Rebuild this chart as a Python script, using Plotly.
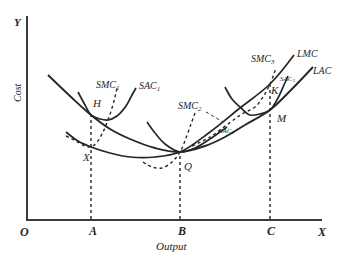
import plotly.graph_objects as go

# ---- data (in chart units) ----
lac_x = [20, 42, 63, 82, 102, 127, 152, 177, 197, 217, 242, 264, 285]
lac_y = [144, 123, 104, 90, 80, 71, 67, 73, 82, 94, 109, 130, 152]

lmc_x = [38, 50, 63, 82, 102, 127, 152, 182, 212, 242, 266]
lmc_y = [87, 78, 72, 66, 62, 62, 67, 87, 111, 135, 164]

sac1_x = [50, 57, 63, 72, 80, 89, 98, 104, 108]
sac1_y = [127, 114, 104, 100, 99, 103, 113, 124, 131]

smc1_x = [38, 48, 57, 63, 69, 75, 80, 84, 87, 89]
smc1_y = [83, 78, 73, 72, 77, 87, 99, 111, 122, 131]

sac2_x = [119, 127, 137, 152, 167, 182, 199]
sac2_y = [97, 86, 75, 67, 71, 80, 92]

smc2_x = [115, 124, 134, 144, 152, 158, 163, 167]
smc2_y = [57, 52, 51, 57, 67, 81, 95, 106]

sac3_x = [197, 204, 213, 222, 232, 242, 250, 256, 260]
sac3_y = [132, 120, 111, 104, 105, 109, 121, 134, 143]

smc3_x = [164, 182, 200, 214, 227, 235, 242, 248]
smc3_y = [73, 82, 95, 105, 112, 122, 135, 151]

leader_x = [178, 195]
leader_y = [107, 97]

# output levels and the cost at the marked points
out_names = ["A", "B", "C"]
out_x = [63, 152, 242]
out_top = [104, 67, 135]

# point labels
pt_names = ["H", "X", "Q", "M", "K"]
pt_x = [69, 58, 160, 253, 246]
pt_y = [116, 62, 53, 101, 129]

curve_labels = ["SMC<sub>1</sub>", "SAC<sub>1</sub>", "SMC<sub>2</sub>", "SMC<sub>3</sub>", "LMC", "LAC"]
curve_lab_x = [80, 121, 162, 235, 279, 294]
curve_lab_y = [134, 133, 113, 159, 166, 149]

small_labels = ["SAC<sub>2</sub>", "SAC<sub>3</sub>"]
small_lab_x = [198, 259]
small_lab_y = [88, 140]

X_MAX = 294
Y_MAX = 203

INK = "#262626"
FONT = "Liberation Serif"

fig = go.Figure()


def solid(x, y, w=1.5):
    fig.add_trace(go.Scatter(x=x, y=y, mode="lines",
                             line=dict(color=INK, width=w, shape="spline", smoothing=1.0),
                             hoverinfo="skip", showlegend=False))


def dashed(x, y, w=1.4, shape="spline"):
    fig.add_trace(go.Scatter(x=x, y=y, mode="lines",
                             line=dict(color=INK, width=w, dash="3px,3px", shape=shape, smoothing=1.0),
                             hoverinfo="skip", showlegend=False))


solid(lac_x, lac_y, 1.9)
solid(lmc_x, lmc_y, 1.7)
solid(sac1_x, sac1_y, 1.7)
solid(sac2_x, sac2_y, 1.6)
solid(sac3_x, sac3_y, 1.7)
dashed(smc1_x, smc1_y)
dashed(smc2_x, smc2_y)
dashed(smc3_x, smc3_y)
dashed(leader_x, leader_y, 1.0, "linear")

for xv, top in zip(out_x, out_top):
    dashed([xv, xv], [0, top], 1.4, "linear")

ann = []


def label(text, x, y, size=11, angle=0):
    # placed in paper units so that labels outside the axis range are kept
    ann.append(dict(text="<i>" + text + "</i>", x=x / X_MAX, y=y / Y_MAX,
                    xref="paper", yref="paper", xanchor="center", yanchor="middle",
                    showarrow=False, textangle=angle,
                    font=dict(family=FONT, size=size, color=INK)))


for t, x in zip(out_names, out_x):
    label("<b>" + t + "</b>", x + 1, -12, 12)
label("<b>O</b>", -4, -13, 12)
label("<b>X</b>", X_MAX, -13, 12)
label("<b>Y</b>", -10, 197, 11)
label("Output", 144, -27, 11)
label("Cost", -11, 126, 10, -90)

for t, x, y in zip(pt_names, pt_x, pt_y):
    label(t, x, y, 11)
for t, x, y in zip(curve_labels, curve_lab_x, curve_lab_y):
    label(t, x, y, 10)
for t, x, y in zip(small_labels, small_lab_x, small_lab_y):
    label(t, x, y, 7)

fig.update_layout(
    width=337, height=264,
    margin=dict(l=28, r=337 - 28 - X_MAX, t=16, b=45),
    paper_bgcolor="white", plot_bgcolor="white",
    annotations=ann,
    xaxis=dict(range=[0, X_MAX], showgrid=False, zeroline=False, showticklabels=False,
               ticks="", showline=True, linecolor="#3a3a3a", linewidth=2, fixedrange=True),
    yaxis=dict(range=[0, Y_MAX], showgrid=False, zeroline=False, showticklabels=False,
               ticks="", showline=True, linecolor="#3a3a3a", linewidth=2, fixedrange=True),
)

fig.write_html("out.html", config={"displayModeBar": False})
